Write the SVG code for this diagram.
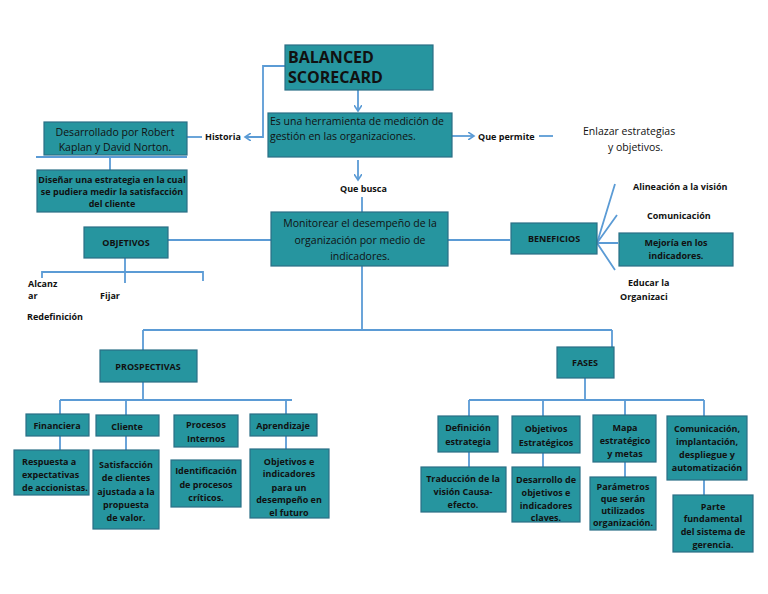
<svg xmlns="http://www.w3.org/2000/svg" width="768" height="594" viewBox="0 0 768 594">
<style>
.b{fill:#26959f;stroke:#2a6f86;stroke-width:1.2}
.l{stroke:#5b9bd5;stroke-width:1.8;fill:none}
text{font-family:"Open Sans","Liberation Sans",sans-serif;fill:#111}
.s{font-size:9px;font-weight:bold;text-anchor:middle}
.m{font-size:10.5px;text-anchor:middle}
.k{font-size:9px;font-weight:bold}
</style>
<defs><marker id="a" markerWidth="8" markerHeight="8" refX="6" refY="4" orient="auto" markerUnits="userSpaceOnUse"><path d="M0,0 L6,4 L0,8" fill="none" stroke="#5b9bd5" stroke-width="1.6"/></marker></defs>
<rect width="768" height="594" fill="#fff"/>
<g id="connectors">
<path class="l" d="M358,90 V111" marker-end="url(#a)"/>
<path class="l" d="M285,66 H263 V137 H245" marker-end="url(#a)"/>
<path class="l" d="M187,137 H202"/>
<path class="l" d="M36,157 H187 M110,157 V170"/>
<path class="l" d="M358,160 V180" marker-end="url(#a)"/>
<path class="l" d="M362,197 V212"/>
<path class="l" d="M271,240 H168"/>
<path class="l" d="M125,258 V272 M42,278 V272 H203 V281 M125,272 V283"/>
<path class="l" d="M448,240 H510"/>
<path class="l" d="M597,243 L615,184 M597,243 L617,215 M597,243 L618,243 M597,243 L615,270"/>
<path class="l" d="M452,136 H474" marker-end="url(#a)"/>
<path class="l" d="M539,136 H553"/>
<path class="l" d="M362,266 V330 M143,330 H612 M143,330 V350 M612,330 V347"/>
<path class="l" d="M143,382 V400 M60,400 H292 M60,400 V414 M126,400 V415 M286,400 V414"/>
<path class="l" d="M60,436 V450 M126,436 V450 M286,436 V449"/>
<path class="l" d="M585,378 V400 M469,400 H704 M469,400 V416 M543,400 V416 M625,400 V415 M704,400 V416"/>
<path class="l" d="M469,452 V467 M543,453 V467 M625,462 V477 M704,480 V495"/>
</g>
<g id="balanced"><rect class="b" x="285" y="45" width="148" height="45"/><text x="288" y="63" font-size="16" font-weight="bold">BALANCED</text><text x="288" y="83" font-size="16" font-weight="bold">SCORECARD</text></g>
<g id="herramienta"><rect class="b" x="268" y="113" width="184" height="44"/><text x="270" y="125" font-size="10.5">Es una herramienta de medición de</text><text x="270" y="140" font-size="10.5">gestión en las organizaciones.</text></g>
<g id="historia"><text x="205" y="140" class="k">Historia</text></g>
<g id="desarrollado"><rect class="b" x="44" y="122" width="143" height="33"/><text class="m" x="115" y="136">Desarrollado por Robert</text><text class="m" x="115" y="151">Kaplan y David Norton.</text></g>
<g id="disenar"><rect class="b" x="37" y="170" width="150" height="42"/><text class="s" x="112" y="183" font-size="8.5">Diseñar una estrategia en la cual</text><text class="s" x="112" y="195" font-size="8.5">se pudiera medir la satisfacción</text><text class="s" x="112" y="207" font-size="8.5">del cliente</text></g>
<g id="quebusca"><text x="340" y="192" class="k">Que busca</text></g>
<g id="monitorear"><rect class="b" x="271" y="212" width="177" height="54"/><text class="m" x="360" y="227">Monitorear el desempeño de la</text><text class="m" x="360" y="244">organización por medio de</text><text class="m" x="360" y="260">indicadores.</text></g>
<g id="objetivos"><rect class="b" x="84" y="227" width="84" height="31"/><text class="s" x="126" y="246" font-size="10">OBJETIVOS</text></g>
<g id="objtexts"><text x="28" y="287" class="k">Alcanz</text><text x="28" y="299" class="k">ar</text><text x="100" y="299" class="k">Fijar</text><text x="27" y="320" class="k">Redefinición</text></g>
<g id="quepermite"><text x="478" y="140" class="k">Que permite</text></g>
<g id="enlazar"><text x="583" y="135" font-size="10.5">Enlazar estrategias</text><text x="608" y="151" font-size="10.5">y objetivos.</text></g>
<g id="beneficios"><rect class="b" x="511" y="223" width="86" height="31"/><text class="s" x="554" y="242" font-size="10">BENEFICIOS</text></g>
<g id="bentexts"><text x="633" y="190" class="k">Alineación a la visión</text><text x="647" y="219" class="k">Comunicación</text><text x="628" y="286" class="k">Educar la</text><text x="620" y="300" class="k">Organizaci</text></g>
<g id="mejoria"><rect class="b" x="619" y="233" width="114" height="33"/><text class="s" x="676" y="246">Mejoría en los</text><text class="s" x="676" y="259">indicadores.</text></g>
<g id="prospectivas"><rect class="b" x="100" y="350" width="97" height="32"/><text class="s" x="148" y="370" font-size="10">PROSPECTIVAS</text></g>
<g id="fases"><rect class="b" x="557" y="347" width="57" height="31"/><text class="s" x="585" y="366" font-size="10">FASES</text></g>
<g id="financiera"><rect class="b" x="26" y="414" width="63" height="22"/><text class="s" x="57" y="429">Financiera</text></g>
<g id="cliente"><rect class="b" x="96" y="415" width="63" height="21"/><text class="s" x="127" y="430">Cliente</text></g>
<g id="procesos"><rect class="b" x="174" y="415" width="64" height="32"/><text class="s" x="206" y="428">Procesos</text><text class="s" x="206" y="442">Internos</text></g>
<g id="aprendizaje"><rect class="b" x="250" y="414" width="67" height="22"/><text class="s" x="283" y="429">Aprendizaje</text></g>
<g id="respuesta"><rect class="b" x="14" y="450" width="75" height="45"/><text class="k" x="22" y="465" font-size="8.5">Respuesta a</text><text class="k" x="22" y="478" font-size="8.5">expectativas</text><text class="k" x="22" y="491" font-size="8.5">de accionistas.</text></g>
<g id="satisfaccion"><rect class="b" x="93" y="450" width="66" height="79"/><text class="s" x="126" y="468" font-size="8.5">Satisfacción</text><text class="s" x="126" y="481" font-size="8.5">de clientes</text><text class="s" x="126" y="495" font-size="8.5">ajustada a la</text><text class="s" x="126" y="508" font-size="8.5">propuesta</text><text class="s" x="126" y="521" font-size="8.5">de valor.</text></g>
<g id="identificacion"><rect class="b" x="171" y="460" width="70" height="47"/><text class="s" x="206" y="474" font-size="8.5">Identificación</text><text class="s" x="206" y="488" font-size="8.5">de procesos</text><text class="s" x="206" y="501" font-size="8.5">críticos.</text></g>
<g id="objfuturo"><rect class="b" x="250" y="449" width="79" height="69"/><text class="s" x="289" y="465" font-size="8.5">Objetivos e</text><text class="s" x="289" y="477" font-size="8.5">indicadores</text><text class="s" x="289" y="491" font-size="8.5">para un</text><text class="s" x="289" y="503" font-size="8.5">desempeño en</text><text class="s" x="289" y="516" font-size="8.5">el futuro</text></g>
<g id="definicion"><rect class="b" x="438" y="416" width="60" height="36"/><text class="s" x="468" y="431" font-size="8.5">Definición</text><text class="s" x="468" y="445" font-size="8.5">estrategia</text></g>
<g id="objestr"><rect class="b" x="512" y="416" width="68" height="37"/><text class="s" x="546" y="432" font-size="8.5">Objetivos</text><text class="s" x="546" y="446" font-size="8.5">Estratégicos</text></g>
<g id="mapa"><rect class="b" x="593" y="415" width="63" height="47"/><text class="s" x="625" y="431" font-size="8.5">Mapa</text><text class="s" x="625" y="444" font-size="8.5">estratégico</text><text class="s" x="625" y="457" font-size="8.5">y metas</text></g>
<g id="comunicacion"><rect class="b" x="667" y="416" width="80" height="64"/><text class="s" x="707" y="432" font-size="8.5">Comunicación,</text><text class="s" x="707" y="445" font-size="8.5">implantación,</text><text class="s" x="707" y="458" font-size="8.5">despliegue y</text><text class="s" x="707" y="471" font-size="8.5">automatización</text></g>
<g id="traduccion"><rect class="b" x="421" y="467" width="85" height="45"/><text class="s" x="463" y="482" font-size="8.5">Traducción de la</text><text class="s" x="463" y="495" font-size="8.5">visión Causa-</text><text class="s" x="463" y="508" font-size="8.5">efecto.</text></g>
<g id="desarrollo"><rect class="b" x="512" y="467" width="68" height="55"/><text class="s" x="546" y="483" font-size="8.5">Desarrollo de</text><text class="s" x="546" y="496" font-size="8.5">objetivos e</text><text class="s" x="546" y="509" font-size="8.5">indicadores</text><text class="s" x="546" y="521" font-size="8.5">claves.</text></g>
<g id="parametros"><rect class="b" x="590" y="477" width="66" height="53"/><text class="s" x="623" y="490" font-size="8.5">Parámetros</text><text class="s" x="623" y="502" font-size="8.5">que serán</text><text class="s" x="623" y="514" font-size="8.5">utilizados</text><text class="s" x="623" y="526" font-size="8.5">organización.</text></g>
<g id="parte"><rect class="b" x="673" y="495" width="80" height="57"/><text class="s" x="713" y="510" font-size="8.5">Parte</text><text class="s" x="713" y="522" font-size="8.5">fundamental</text><text class="s" x="713" y="535" font-size="8.5">del sistema de</text><text class="s" x="713" y="548" font-size="8.5">gerencia.</text></g>
</svg>
